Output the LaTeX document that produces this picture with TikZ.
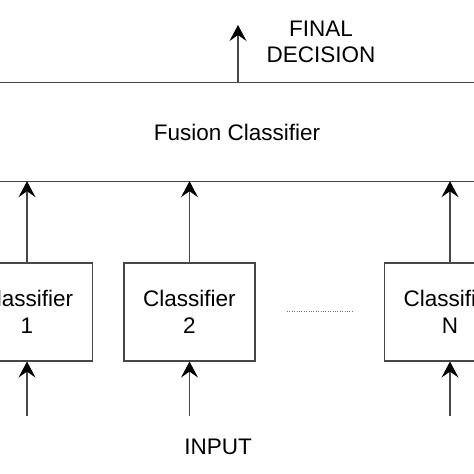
\documentclass[tikz,border=0pt]{standalone}
\usepackage{fontspec}
\setmainfont{Liberation Sans}
\usetikzlibrary{arrows.meta}
\begin{document}
\begin{tikzpicture}[x=1pt,y=-1pt,
  line/.style={draw=black!72, line width=1.1pt},
  arr/.style={line, -{Stealth[length=16pt,width=17pt,inset=6pt,black]}},
  txt/.style={font=\fontsize{22.5}{26.5}\selectfont, align=center, inner sep=0pt},
  clsbox/.style={line, rectangle, minimum width=131pt, minimum height=98pt, txt}]
\useasboundingbox (0,0) rectangle (474,474);
\clip (0,0) rectangle (474,474);
\fill[white] (0,0) rectangle (474,474);
\node[txt, minimum width=490pt, minimum height=98pt] (fus) at (237,132) {Fusion Classifier};
\draw[line] (fus.north west) -- (fus.north east);
\draw[line] (fus.south west) -- (fus.south east);
\coordinate (fd) at (238,25);
\draw[arr] (fus.north -| fd) -- (fd);
\node[txt] (final) at (321,42) {FINAL\\DECISION};
\node[clsbox] (c1) at (27,312) {Classifier\\1};
\node[clsbox] (c2) at (189.5,312) {Classifier\\2};
\node[clsbox] (cN) at (450,312) {Classifier\\N};
\draw[arr] (c1.north) -- (c1.north |- fus.south);
\draw[arr] (c2.north) -- (c2.north |- fus.south);
\draw[arr] (cN.north) -- (cN.north |- fus.south);
\coordinate (i1) at (27,416);
\coordinate (i2) at (189.5,416);
\coordinate (iN) at (450,416);
\draw[arr] (i1) -- (c1.south);
\draw[arr] (i2) -- (c2.south);
\draw[arr] (iN) -- (cN.south);
\coordinate (d1) at (287,311);
\coordinate (d2) at (353,311);
\draw[draw=black!55, line width=0.8pt, dash pattern=on 0.8pt off 1.6pt] (d1) -- (d2);
\node[txt] (input) at (218,447) {INPUT};
\end{tikzpicture}
\end{document}
